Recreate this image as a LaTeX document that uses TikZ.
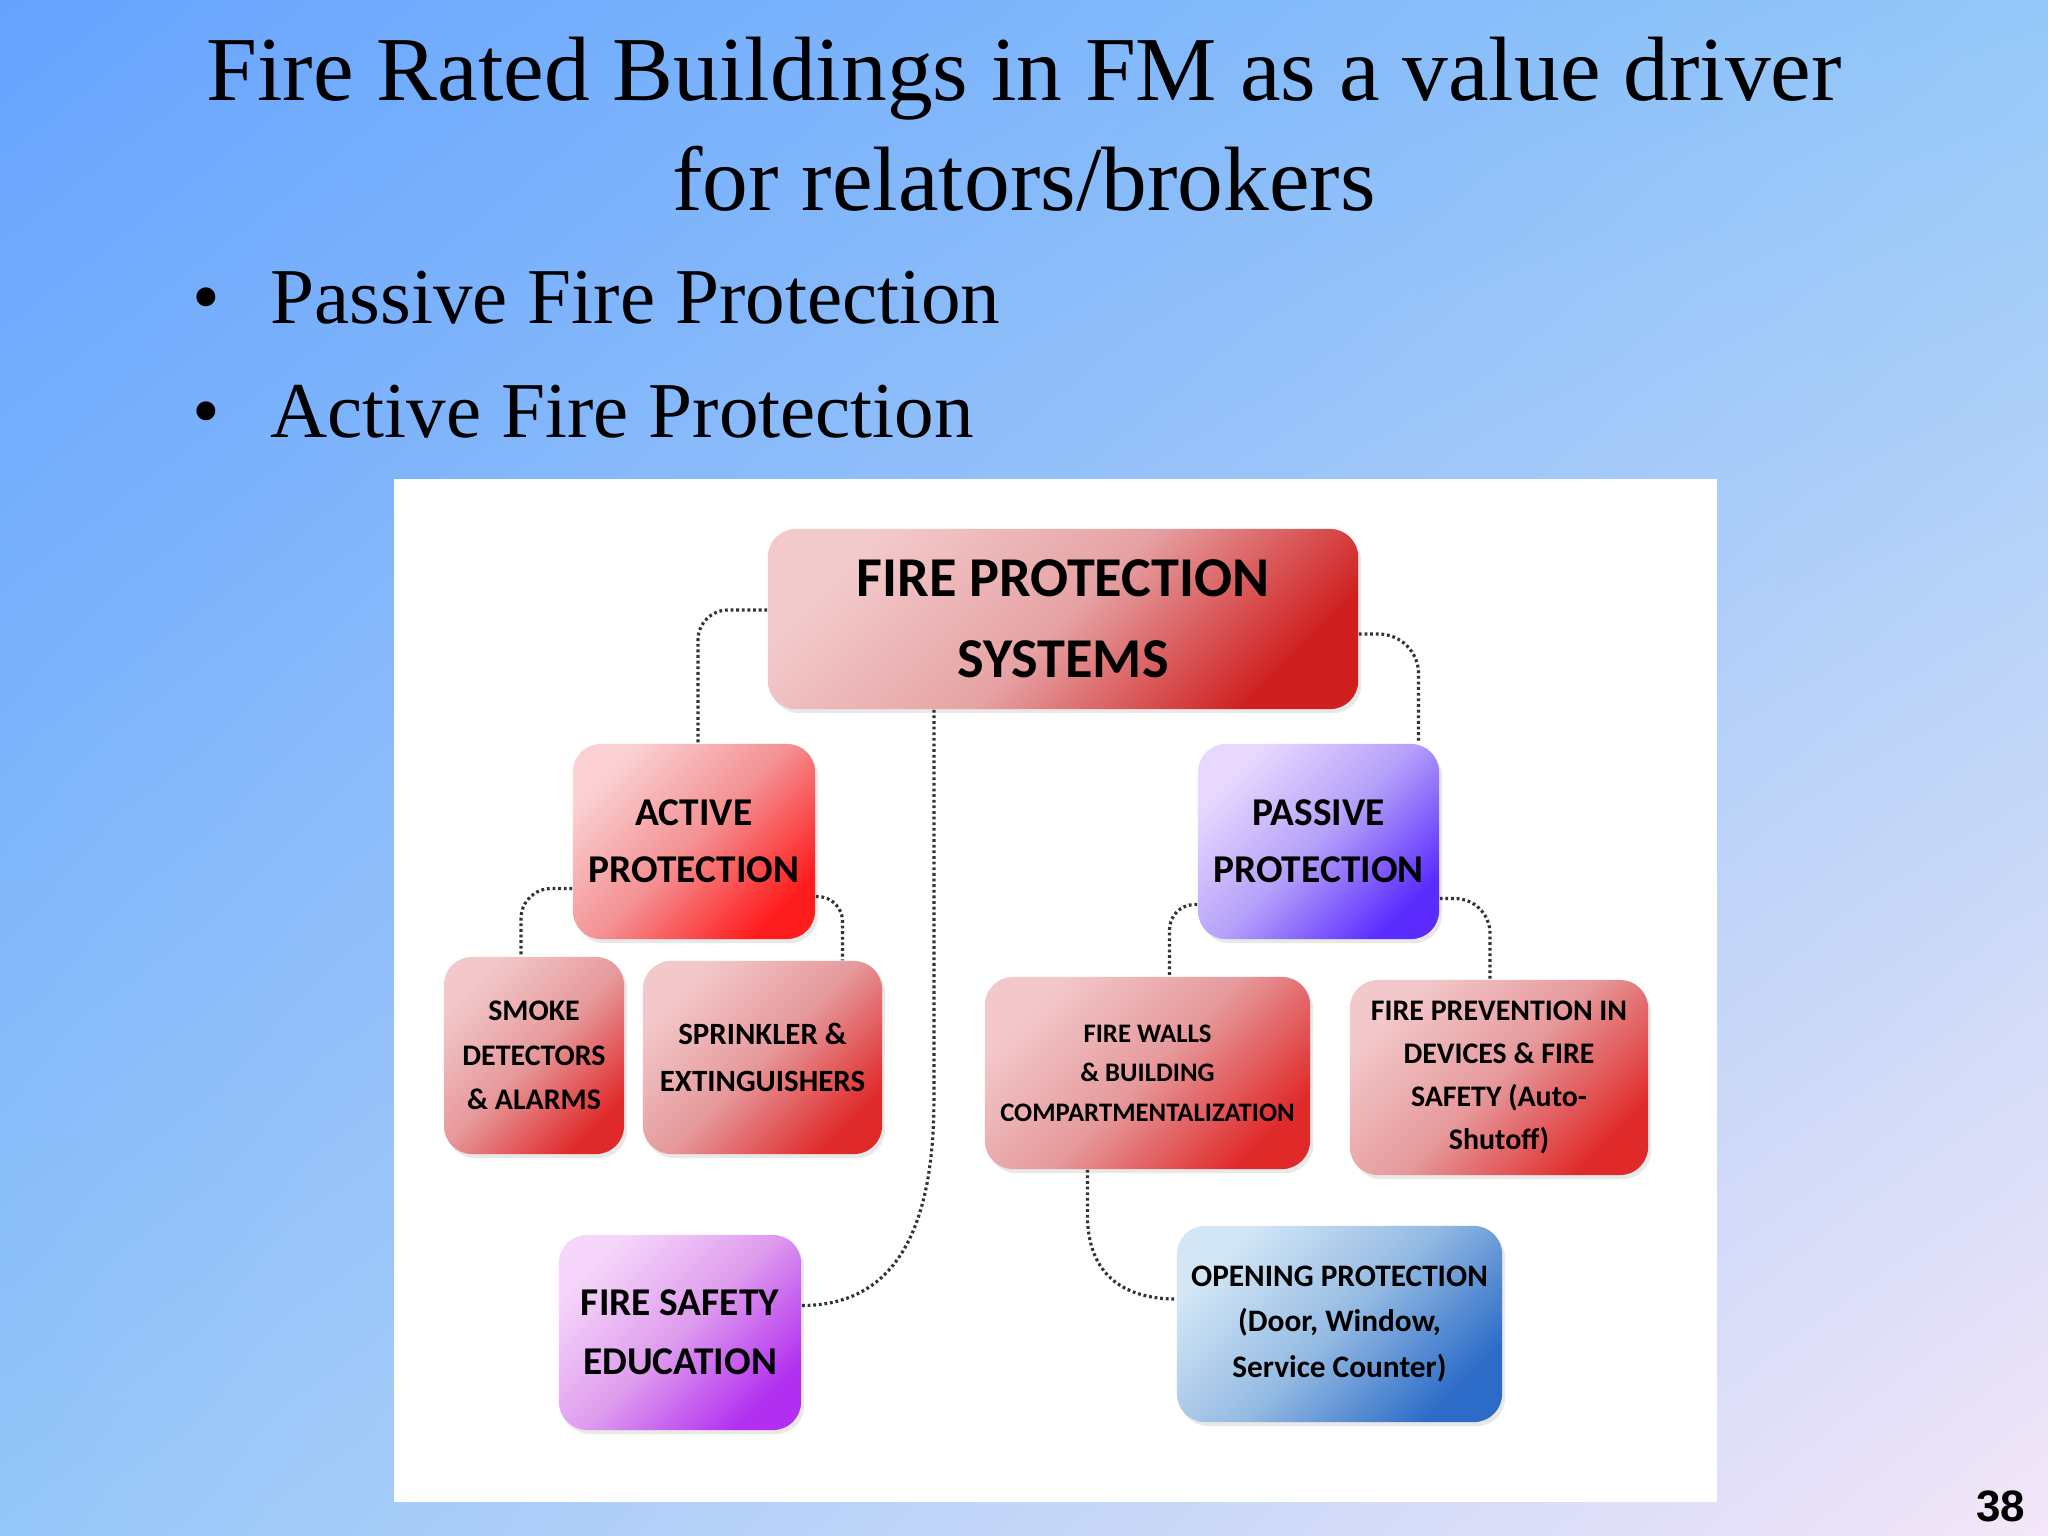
\documentclass[tikz,border=0pt]{standalone}
\usepackage{fontspec}
\setmainfont{Liberation Serif}
\newfontfamily\boxfont{Carlito}
\newfontfamily\numfont{Liberation Sans}
\usetikzlibrary{shadows,shadings}

\definecolor{bgTL}{HTML}{66A3FE}
\definecolor{bgTR}{HTML}{94C8F8}
\definecolor{bgBL}{HTML}{94C6F8}
\definecolor{bgBR}{HTML}{F4E6F8}
\definecolor{connc}{HTML}{333333}

\definecolor{rootA}{HTML}{F3CACB}\definecolor{rootM}{HTML}{E6A2A4}\definecolor{rootB}{HTML}{CF1E1E}
\definecolor{actA}{HTML}{FAD0D2}\definecolor{actM}{HTML}{F49092}\definecolor{actB}{HTML}{FF1C1C}
\definecolor{pasA}{HTML}{E8D8FF}\definecolor{pasM}{HTML}{B4A0FA}\definecolor{pasB}{HTML}{5C2CFF}
\definecolor{redA}{HTML}{F2C8CA}\definecolor{redM}{HTML}{E6999B}\definecolor{redB}{HTML}{E02A2A}
\definecolor{eduA}{HTML}{F6D6FA}\definecolor{eduM}{HTML}{DE9CEE}\definecolor{eduB}{HTML}{B22EF0}
\definecolor{opnA}{HTML}{D2E6F6}\definecolor{opnM}{HTML}{94BAE2}\definecolor{opnB}{HTML}{2C6CC8}

\tikzset{
  box/.style={rounded corners=0.28cm, inner sep=0pt, align=center, text=black,
    drop shadow={shadow xshift=0.03cm, shadow yshift=-0.04cm, opacity=0.18}},
  grad/.style n args={3}{top color=#1, bottom color=#3, middle color=#2, shading angle=45},
  conn/.style={line width=0.9pt, dash pattern=on 0.8pt off 0.8pt, color=connc},
  titletext/.style={anchor=base, inner sep=0pt, font=\fontsize{26}{30.7}\selectfont},
  bullettext/.style={anchor=base west, inner sep=0pt, font=\fontsize{22.5}{27}\selectfont},
}

\begin{document}
\begin{tikzpicture}[x=0.01cm,y=0.01cm]
\useasboundingbox (0,0) rectangle (2048,-1536);
\shade[upper left=bgTL, upper right=bgTR, lower left=bgBL, lower right=bgBR] (0,0) rectangle (2048,-1536);

% title
\node[titletext] (title1) at (1024,-100) {Fire Rated Buildings in FM as a value driver};
\node[titletext] (title2) at (1024,-210) {for relators/brokers};

% bullets
\node[bullettext] (dot1) at (192,-323) {•};
\node[bullettext] (item1) at (270,-323) {Passive Fire Protection};
\node[bullettext] (dot2) at (192,-437) {•};
\node[bullettext] (item2) at (270,-437) {Active Fire Protection};

% page number
\node[anchor=base east, inner sep=0pt, font=\numfont\bfseries\fontsize{12.5}{15}\selectfont] (pagenum) at (2026,-1521) {38};

% white panel
\node[fill=white, minimum width=13.23cm, minimum height=10.23cm, inner sep=0pt] (panel) at (1055.5,-990.5) {};

% boxes
\node[box, grad={rootA}{rootM}{rootB}, minimum width=5.90cm, minimum height=1.80cm,
  font=\boxfont\bfseries\fontsize{16}{23}\selectfont] (root) at (1063,-619) {FIRE PROTECTION\\SYSTEMS};
\node[box, grad={actA}{actM}{actB}, minimum width=2.42cm, minimum height=1.95cm,
  font=\boxfont\bfseries\fontsize{11.2}{16.3}\selectfont] (active) at (694,-841.5) {ACTIVE\\PROTECTION};
\node[box, grad={pasA}{pasM}{pasB}, minimum width=2.41cm, minimum height=1.95cm,
  font=\boxfont\bfseries\fontsize{11.2}{16.3}\selectfont] (passive) at (1318.5,-841.5) {PASSIVE\\PROTECTION};
\node[box, grad={redA}{redM}{redB}, minimum width=1.80cm, minimum height=1.97cm,
  font=\boxfont\bfseries\fontsize{8.5}{12.6}\selectfont] (smoke) at (534,-1055.5) {SMOKE\\DETECTORS\\\& ALARMS};
\node[box, grad={redA}{redM}{redB}, minimum width=2.39cm, minimum height=1.93cm,
  font=\boxfont\bfseries\fontsize{8.8}{13.4}\selectfont] (sprinkler) at (762.5,-1057.5) {SPRINKLER \&\\EXTINGUISHERS};
\node[box, grad={redA}{redM}{redB}, minimum width=3.25cm, minimum height=1.92cm,
  font=\boxfont\bfseries\fontsize{7.6}{11.2}\selectfont] (walls) at (1147.5,-1073) {FIRE WALLS\\\& BUILDING\\COMPARTMENTALIZATION};
\node[box, grad={redA}{redM}{redB}, minimum width=2.98cm, minimum height=1.95cm,
  font=\boxfont\bfseries\fontsize{8.5}{12.3}\selectfont] (prevention) at (1499,-1077.5) {FIRE PREVENTION IN\\DEVICES \& FIRE\\SAFETY (Auto-\\Shutoff)};
\node[box, grad={eduA}{eduM}{eduB}, minimum width=2.42cm, minimum height=1.95cm,
  font=\boxfont\bfseries\fontsize{11.2}{16.7}\selectfont] (education) at (680,-1332.5) {FIRE SAFETY\\EDUCATION};
\node[box, grad={opnA}{opnM}{opnB}, minimum width=3.25cm, minimum height=1.96cm,
  font=\boxfont\bfseries\fontsize{8.9}{13}\selectfont] (opening) at (1339.5,-1324) {OPENING PROTECTION\\(Door, Window,\\Service Counter)};

% connectors
\draw[conn, rounded corners=0.3cm] ([yshift=0.09cm]root.west) -| ([xshift=0.04cm]active.north);
\draw[conn, rounded corners=0.4cm] ([yshift=-0.15cm]root.east) -| ([xshift=1cm]passive.north);
\draw[conn] ([xshift=-1.29cm]root.south) -- ++(0,-390) .. controls +(0,-150) and +(80,0) .. ([yshift=0.27cm]education.east);
\draw[conn, rounded corners=0.3cm] ([yshift=-0.47cm]active.west) -| ([xshift=-0.13cm]smoke.north);
\draw[conn, rounded corners=0.25cm] ([yshift=-0.55cm]active.east) -| ([xshift=0.8cm]sprinkler.north);
\draw[conn, rounded corners=0.25cm] ([yshift=-0.63cm]passive.west) -| ([xshift=0.22cm]walls.north);
\draw[conn, rounded corners=0.35cm] ([yshift=-0.57cm]passive.east) -| ([xshift=-0.09cm]prevention.north);
\draw[conn] ([xshift=-0.6cm]walls.south) -- ++(0,-45) .. controls +(0,-70) and +(-40,0) .. ([yshift=0.25cm]opening.west);
\end{tikzpicture}
\end{document}
